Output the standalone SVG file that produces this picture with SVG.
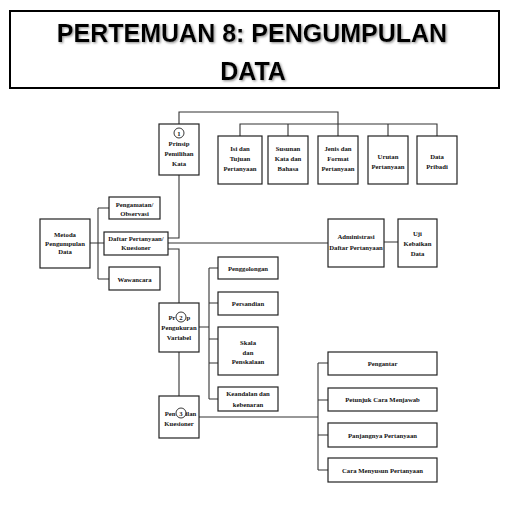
<svg xmlns="http://www.w3.org/2000/svg" width="512" height="512" viewBox="0 0 512 512">
<style>
.b{fill:#fff;stroke:#222;stroke-width:1.2}
.c{fill:none;stroke:#333;stroke-width:1.1}
.t{font-family:"Liberation Serif","Times New Roman",serif;font-weight:bold;font-size:6.7px;fill:#111;text-anchor:middle}
.l{text-anchor:start}
.r{text-anchor:end}
.h{font-family:"Liberation Sans",Arial,sans-serif;font-weight:bold;font-size:25px;fill:#000;text-anchor:middle}
.n{fill:#fff;stroke:#222;stroke-width:0.9}
</style>
<defs>
<filter id="sh" x="-5%" y="-20%" width="110%" height="140%">
<feDropShadow dx="1.2" dy="1.2" stdDeviation="0.8" flood-color="#777" flood-opacity="0.8"/>
</filter>
</defs>
<rect width="512" height="512" fill="#fff"/>
<g id="title">
<rect x="10" y="11" width="489" height="77" fill="#fff" stroke="#000" stroke-width="2"/>
<g filter="url(#sh)">
<text class="h" x="252" y="42">PERTEMUAN 8: PENGUMPULAN</text>
<text class="h" x="253" y="80">DATA</text>
</g>
</g>
<g id="connectors">
<path class="c" d="M179 124V112H338V124M240 136V124H437V136M288 124V136M338 124V136M388 124V136"/>
<path class="c" d="M179 175V238H168M90 243H104M98 208V279M98 208H109M98 279H109M168 243H328M384 242H398"/>
<path class="c" d="M168 249H179V303M179 352V396M199 327H209M209 268V399M209 268H218M209 303H218M209 339H218M209 363H218M209 399H218"/>
<path class="c" d="M199 417H318M318 363V470M318 363H328M318 400H328M318 435H328M318 470H328"/>
</g>
<g id="prinsip-pemilihan">
<rect class="b" x="159" y="124" width="40" height="51"/>
<circle class="n" cx="179" cy="133" r="5"/>
<text class="t" x="179" y="135.5">1</text>
<text class="t" x="179" y="145.5">Prinsip</text>
<text class="t" x="179" y="156">Pemilihan</text>
<text class="t" x="179" y="166">Kata</text>
</g>
<g id="isi">
<rect class="b" x="218" y="136" width="44" height="48"/>
<text class="t" x="240" y="151">Isi dan</text>
<text class="t" x="240" y="161">Tujuan</text>
<text class="t" x="240" y="171">Pertanyaan</text>
</g>
<g id="susunan">
<rect class="b" x="268" y="136" width="40" height="48"/>
<text class="t" x="288" y="151">Susunan</text>
<text class="t" x="288" y="161">Kata dan</text>
<text class="t" x="288" y="171">Bahasa</text>
</g>
<g id="jenis">
<rect class="b" x="318" y="136" width="40" height="48"/>
<text class="t" x="338" y="151">Jenis dan</text>
<text class="t" x="338" y="161">Format</text>
<text class="t" x="338" y="171">Pertanyaan</text>
</g>
<g id="urutan">
<rect class="b" x="368" y="136" width="40" height="48"/>
<text class="t" x="388" y="159">Urutan</text>
<text class="t" x="388" y="169">Pertanyaan</text>
</g>
<g id="data-pribadi">
<rect class="b" x="417" y="136" width="40" height="48"/>
<text class="t" x="437" y="159">Data</text>
<text class="t" x="437" y="169">Pribadi</text>
</g>
<g id="metoda">
<rect class="b" x="40" y="219" width="50" height="49"/>
<text class="t" x="65" y="236.5">Metoda</text>
<text class="t" x="65" y="245.5">Pengumpulan</text>
<text class="t" x="65" y="254">Data</text>
</g>
<g id="pengamatan">
<rect class="b" x="109" y="197" width="51" height="22"/>
<text class="t" x="134.5" y="207">Pengamatan/</text>
<text class="t" x="134.5" y="215.5">Observasi</text>
</g>
<g id="daftar">
<rect class="b" x="104" y="232" width="64" height="23"/>
<text class="t" x="136" y="240.5">Daftar Pertanyaan/</text>
<text class="t" x="136" y="249.5">Kuesioner</text>
</g>
<g id="wawancara">
<rect class="b" x="109" y="267" width="51" height="23"/>
<text class="t" x="134.5" y="281.5">Wawancara</text>
</g>
<g id="administrasi">
<rect class="b" x="328" y="219" width="56" height="48"/>
<text class="t" x="356" y="238.5">Administrasi</text>
<text class="t" x="356" y="250">Daftar Pertanyaan</text>
</g>
<g id="uji">
<rect class="b" x="398" y="219" width="39" height="48"/>
<text class="t" x="417.5" y="235.5">Uji</text>
<text class="t" x="417.5" y="245.5">Kebaikan</text>
<text class="t" x="417.5" y="255.5">Data</text>
</g>
<g id="prinsip-pengukuran">
<rect class="b" x="159" y="303" width="40" height="49"/>
<text class="t r" x="175.5" y="319.5">Pr</text>
<circle class="n" cx="181" cy="317" r="5"/>
<text class="t" x="181" y="319.5">2</text>
<text class="t l" x="186.5" y="319.5">p</text>
<text class="t" x="179" y="329.5">Pengukuran</text>
<text class="t" x="179" y="339.5">Variabel</text>
</g>
<g id="penggolongan">
<rect class="b" x="218" y="257" width="60" height="22"/>
<text class="t" x="248" y="270.5">Penggolongan</text>
</g>
<g id="persandian">
<rect class="b" x="218" y="292" width="60" height="23"/>
<text class="t" x="248" y="305.5">Persandian</text>
</g>
<g id="skala">
<rect class="b" x="218" y="327" width="60" height="48"/>
<text class="t" x="248" y="345">Skala</text>
<text class="t" x="248" y="354.5">dan</text>
<text class="t" x="248" y="364">Penskalaan</text>
</g>
<g id="keandalan">
<rect class="b" x="218" y="387" width="60" height="24"/>
<text class="t" x="248" y="395.5">Keandalan dan</text>
<text class="t" x="248" y="406.5">kebenaran</text>
</g>
<g id="penampilan">
<rect class="b" x="159" y="396" width="40" height="42"/>
<text class="t r" x="175.5" y="415.5">Pen</text>
<circle class="n" cx="181" cy="413" r="5"/>
<text class="t" x="181" y="415.5">3</text>
<text class="t l" x="185.5" y="415.5">ilan</text>
<text class="t" x="179" y="425.5">Kuesioner</text>
</g>
<g id="pengantar">
<rect class="b" x="328" y="352" width="109" height="23"/>
<text class="t" x="382.5" y="366">Pengantar</text>
</g>
<g id="petunjuk">
<rect class="b" x="328" y="388" width="109" height="23"/>
<text class="t" x="382.5" y="402">Petunjuk Cara Menjawab</text>
</g>
<g id="panjangnya">
<rect class="b" x="328" y="423" width="109" height="24"/>
<text class="t" x="382.5" y="437.5">Panjangnya Pertanyaan</text>
</g>
<g id="cara">
<rect class="b" x="328" y="458" width="109" height="24"/>
<text class="t" x="382.5" y="472.5">Cara Menyusun Pertanyaan</text>
</g>
</svg>
